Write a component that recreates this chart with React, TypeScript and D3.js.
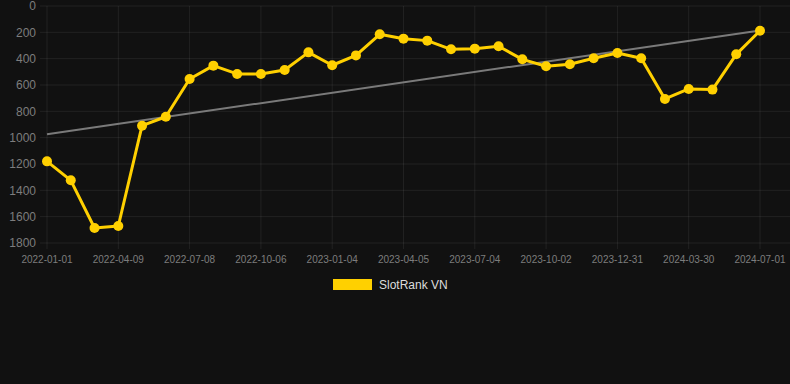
import React from "react";
import * as d3 from "d3";

const dates = [
  "2022-01-01", "2022-02-03", "2022-03-08", "2022-04-09", "2022-05-09", "2022-06-08",
  "2022-07-08", "2022-08-07", "2022-09-06", "2022-10-06", "2022-11-05", "2022-12-05",
  "2023-01-04", "2023-02-03", "2023-03-06", "2023-04-05", "2023-05-05", "2023-06-04",
  "2023-07-04", "2023-08-03", "2023-09-02", "2023-10-02", "2023-11-01", "2023-12-01",
  "2023-12-31", "2024-01-30", "2024-02-29", "2024-03-30", "2024-05-01", "2024-06-01",
  "2024-07-01",
];
const ranks = [
  1180, 1324, 1686, 1671, 909, 841, 554, 453, 516, 516, 486, 352, 450, 375, 215, 248,
  263, 329, 324, 306, 405, 458, 443, 397, 357, 397, 706, 630, 635, 367, 188,
];
const xTickLabels = [
  "2022-01-01", "2022-04-09", "2022-07-08", "2022-10-06", "2023-01-04", "2023-04-05",
  "2023-07-04", "2023-10-02", "2023-12-31", "2024-03-30", "2024-07-01",
];
const yTicks = [0, 200, 400, 600, 800, 1000, 1200, 1400, 1600, 1800];
const seriesName = "SlotRank VN";

const W = 790;
const H = 384;
const FONT = "'Liberation Sans', Arial, Helvetica, sans-serif";

export default function App() {
  const x = d3.scalePoint<string>().domain(dates).range([47, 760]);
  const y = d3.scaleLinear().domain([0, 1800]).range([6, 243]);

  const pts = dates.map((d, i) => ({ d, i, v: ranks[i] }));
  const line = d3
    .line<{ d: string; v: number }>()
    .x((p) => x(p.d)!)
    .y((p) => y(p.v));

  // linear regression trend
  const n = ranks.length;
  const mx = d3.mean(pts, (p) => p.i)!;
  const my = d3.mean(ranks)!;
  const sxy = d3.sum(pts, (p) => (p.i - mx) * (p.v - my));
  const sxx = d3.sum(pts, (p) => (p.i - mx) ** 2);
  const slope = sxy / sxx;
  const icpt = my - slope * mx;
  const t0 = icpt;
  const t1 = icpt + slope * (n - 1);

  const grid = "rgba(255,255,255,0.07)";

  return (
    <svg
      width={W}
      height={H}
      style={{ position: "absolute", left: 0, top: 0, background: "#111111" }}
    >
      <rect x={0} y={0} width={W} height={H} fill="#111111" />
      {yTicks.map((t) => (
        <g key={"y" + t}>
          <line x1={40} x2={790} y1={y(t)} y2={y(t)} stroke={grid} strokeWidth={1} />
          <text
            x={36}
            y={y(t)}
            dy="0.35em"
            textAnchor="end"
            fill="#7d7d7d"
            fontSize={12}
            fontFamily={FONT}
          >
            {t}
          </text>
        </g>
      ))}
      {xTickLabels.map((t) => (
        <g key={"x" + t}>
          <line x1={x(t)} x2={x(t)} y1={y(0)} y2={249} stroke={grid} strokeWidth={1} />
          <text
            x={x(t)}
            y={259}
            dy="0.35em"
            textAnchor="middle"
            fill="#7d7d7d"
            fontSize={10}
            fontFamily={FONT}
          >
            {t}
          </text>
        </g>
      ))}
      <line
        x1={x(dates[0])}
        x2={x(dates[n - 1])}
        y1={y(t0)}
        y2={y(t1)}
        stroke="#7a7a7a"
        strokeWidth={2}
      />
      <path d={line(pts)!} fill="none" stroke="#ffd000" strokeWidth={3} strokeLinejoin="round" />
      {pts.map((p) => (
        <circle key={p.d} cx={x(p.d)} cy={y(p.v)} r={5} fill="#ffd000" />
      ))}
      <rect x={333} y={279} width={39} height={11} fill="#ffd000" />
      <text x={379} y={285} dy="0.35em" fill="#dddddd" fontSize={12} fontFamily={FONT}>
        {seriesName}
      </text>
    </svg>
  );
}
